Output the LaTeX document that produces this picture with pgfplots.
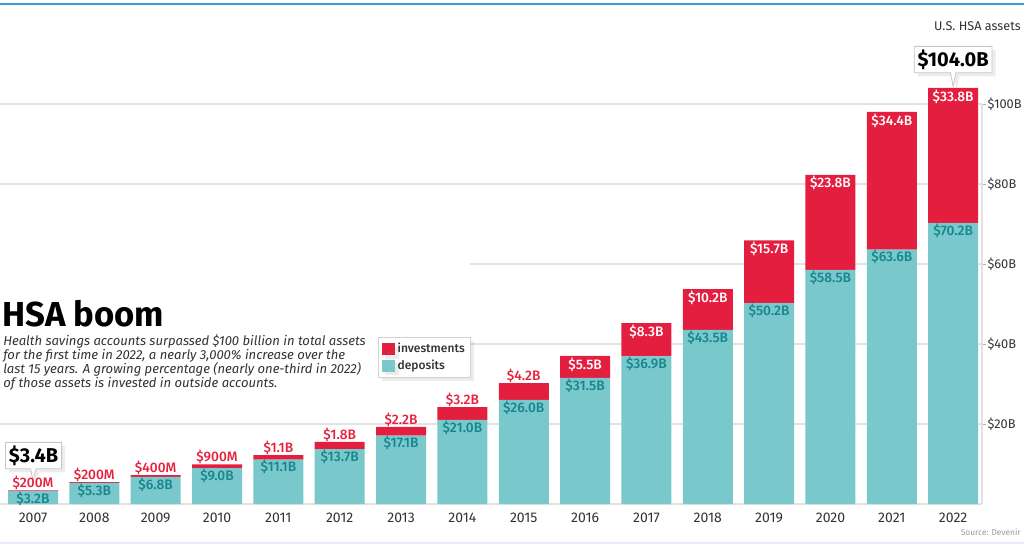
\documentclass[border=0pt]{standalone}
\usepackage{fontspec}
\setmainfont{Fira Sans}
\newfontfamily\medfont{Fira Sans Medium}
\usepackage{pgfplots}
\pgfplotsset{compat=1.18}
\usepackage{pgfplotstable}
\usetikzlibrary{shapes.callouts,shadows}

\definecolor{inv}{HTML}{E41E3F}
\definecolor{dep}{HTML}{78C8CC}
\definecolor{deptxt}{HTML}{16868C}
\definecolor{invtxt}{HTML}{E8203F}
\definecolor{gridc}{HTML}{E2E2E2}
\definecolor{topblue}{HTML}{3D9AD8}
\definecolor{txt}{HTML}{333333}
\newcommand\lab{\medfont\fontsize{10.3}{11}\selectfont}

\pgfplotstableread{
x dep inv deplab invlab
0 3.2 0.2 3.2B 200M
1 5.3 0.2 5.3B 200M
2 6.8 0.4 6.8B 400M
3 9.0 0.9 9.0B 900M
4 11.1 1.1 11.1B 1.1B
5 13.7 1.8 13.7B 1.8B
6 17.1 2.2 17.1B 2.2B
7 21.0 3.2 21.0B 3.2B
8 26.0 4.2 26.0B 4.2B
9 31.5 5.5 31.5B 5.5B
10 36.9 8.3 36.9B 8.3B
11 43.5 10.2 43.5B 10.2B
12 50.2 15.7 50.2B 15.7B
13 58.5 23.8 58.5B 23.8B
14 63.6 34.4 63.6B 34.4B
15 70.2 33.8 70.2B 33.8B
}\data

\pgfplotsset{base/.style={scale only axis, width=736.5pt, height=300pt,
  xmin=-0.538, xmax=15.47, ymin=0, ymax=100,
  at={(0pt,31.5pt)}, anchor=south west, clip=false}}

\begin{document}
\begin{tikzpicture}
\path[use as bounding box] (0,0) rectangle (768pt,409.5pt);

\begin{axis}[base, ybar stacked, bar width=37.5pt,
  axis x line=bottom, axis y line=right,
  axis line style={draw=gridc, line width=0.9pt, -},
  xtick={0,1,2,3,4,5,6,7,8,9,10,11,12,13,14,15},
  xticklabels={2007,2008,2009,2010,2011,2012,2013,2014,2015,2016,2017,2018,2019,2020,2021,2022},
  x tick style={draw=none},
  ytick={20,40,60,80,100},
  y tick style={draw=gray!60, line width=0.6pt},
  major tick length=3pt, tick align=outside,
  yticklabel={\$\pgfmathprintnumber{\tick}B},
  ymajorgrids, grid style={draw=gridc, line width=1.1pt},
  tick label style={font=\fontsize{9.6}{11}\selectfont, text=txt},
  y tick label style={inner sep=1pt},
  x tick label style={font=\fontsize{10.5}{12}\selectfont},
  /pgf/number format/assume math mode=true,
  reverse legend,
  legend style={at={(axis cs:5.625,41.75)}, anchor=north west,
    draw=gray!35, fill=white, font=\medfont\fontsize{9}{10}\selectfont, text=txt,
    inner sep=2.5pt, row sep=0pt, drop shadow={opacity=0.15}},
  legend cell align=left,
]
\fill[white] (axis cs:-0.6,27.25) rectangle (axis cs:7.13,64.75);
\addplot[fill=dep, draw=none,
  legend image code/.code={\fill[dep] (0pt,-4.5pt) rectangle (10pt,4.5pt);}]
  table[x=x, y=dep]{\data};
\addlegendentry{deposits}
\addplot[fill=inv, draw=none,
  legend image code/.code={\fill[inv] (0pt,-4.5pt) rectangle (10pt,4.5pt);}]
  table[x=x, y=inv]{\data};
\addlegendentry{investments}
\end{axis}

\begin{axis}[base, hide axis, point meta=explicit symbolic,
  nodes near coords={\$\pgfplotspointmeta}, nodes near coords align=center]
\addplot[draw=none, mark=none,
  every node near coord/.append style={anchor=center, yshift=-5.8pt, text=deptxt, font=\lab}]
  table[x=x, y=dep, meta=deplab]{\data};
\addplot[draw=none, mark=none, restrict x to domain=0:8,
  every node near coord/.append style={anchor=center, yshift=5.4pt, text=invtxt, font=\lab}]
  table[x=x, y expr=\thisrow{dep}+\thisrow{inv}, meta=invlab]{\data};
\addplot[draw=none, mark=none, restrict x to domain=9:15,
  every node near coord/.append style={anchor=center, yshift=-6.4pt, text=white, font=\lab}]
  table[x=x, y expr=\thisrow{dep}+\thisrow{inv}, meta=invlab]{\data};
\node[rectangle callout, draw=gray!45, fill=white, line width=0.6pt,
  callout absolute pointer={(axis cs:0,5.8)}, callout pointer width=4pt,
  font=\bfseries\fontsize{15}{17}\selectfont, inner sep=2.5pt, minimum height=18.75pt,
  drop shadow={opacity=0.15}] at (axis cs:0.01,12.1) {\$3.4B};
\node[rectangle callout, draw=gray!45, fill=white, line width=0.6pt,
  callout absolute pointer={(axis cs:15,104.4)}, callout pointer width=4pt,
  font=\bfseries\fontsize{15}{17}\selectfont, inner sep=2.5pt, minimum height=18.75pt,
  drop shadow={opacity=0.15}] at (axis cs:15,111.1) {\$104.0B};
\end{axis}

\begin{scope}[x=0.75pt, y=-0.75pt, shift={(0pt,409.5pt)}]
\draw[topblue, line width=2.2pt] (0,4) -- (1024,4);
\draw[blue!8, line width=0.8pt] (0,543) -- (1024,543);
\node[anchor=east, font=\fontsize{9.5}{11}\selectfont, text=txt, inner sep=0] at (1021,26) {U.S. HSA assets};
\node[anchor=base west, font=\bfseries\fontsize{26}{30}\selectfont, inner sep=0] at (2,327) {HSA boom};
\begin{scope}[every node/.style={anchor=base west, font=\itshape\fontsize{9.8}{11}\selectfont, text=txt, inner sep=0}]
\node at (3,346) {Health savings accounts surpassed \$100 billion in total assets};
\node at (3,360) {for the first time in 2022, a nearly 3,000\% increase over the};
\node at (3,374) {last 15 years. A growing percentage (nearly one-third in 2022)};
\node at (3,388) {of those assets is invested in outside accounts.};
\end{scope}
\node[anchor=east, font=\fontsize{6.3}{8}\selectfont, text=gray!80, inner sep=0] at (1021,532) {Source: Devenir};
\end{scope}
\end{tikzpicture}
\end{document}
